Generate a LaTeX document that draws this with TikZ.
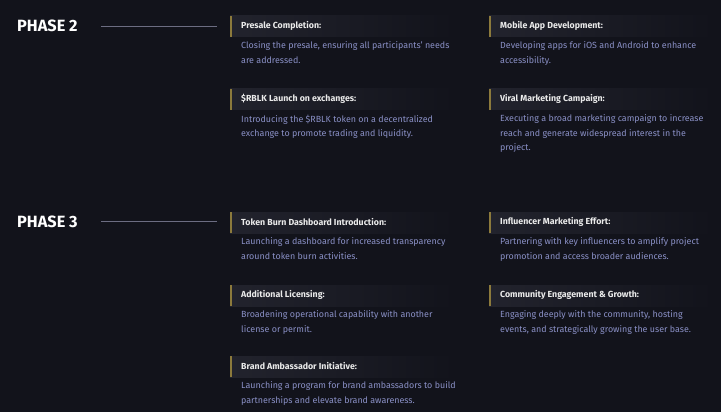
\documentclass[tikz,border=0pt]{standalone}
\usepackage{fontspec}
\setmainfont{Fira Sans}
\usetikzlibrary{positioning}
\definecolor{bgnavy}{HTML}{12131B}
\definecolor{barfill}{HTML}{22232D}
\definecolor{accent}{HTML}{8C7A3C}
\definecolor{desctext}{HTML}{8A90C6}
\definecolor{phaseline}{HTML}{6C6D82}
\tikzset{
	phase/.style={anchor=west, inner sep=0pt, text=white, font=\fontsize{16.3}{18}\selectfont\bfseries},
	cardtitle/.style={anchor=west, inner sep=0pt, text=white!92!black, font=\fontsize{8.8}{10}\selectfont\bfseries},
	carddesc/.style={anchor=north west, inner sep=0pt, align=left, text=desctext, font=\fontsize{8.9}{14.6}\selectfont},
	phaserule/.style={draw=phaseline, line width=0.8pt}
}
\def\roadcard(#1,#2)[#3]#4#5{
	\shade[left color=barfill, right color=bgnavy] (#1,#2-10) rectangle (#1+225,#2+11);
	\fill[accent] (#1,#2-10) rectangle (#1+2,#2+11);
	\node[cardtitle] (#3) at (#1+11,#2) {#4};
	\node[carddesc] (#3d) at (#1+11,#2+15.5) {#5};
}

\begin{document}
\begin{tikzpicture}[x=1pt, y=-1pt]
			%%%%% START %%%%%
			
			\fill[bgnavy] (0,0) rectangle (721,412);
			\useasboundingbox (0,0) rectangle (721,412);
			
			% phase 2
			\node[phase] (p2) at (17,26) {PHASE 2};
			\coordinate (p2a) at (101,26);
			\coordinate (p2b) at (217,26);
			\draw[phaserule] (p2a) -- (p2b);
			
			\roadcard(230,26)[presale]{Presale Completion:}{Closing the presale, ensuring all participants' needs\\are addressed.}
			\roadcard(489,26)[mobile]{Mobile App Development:}{Developing apps for iOS and Android to enhance\\accessibility.}
			\roadcard(230,99)[launch]{\$RBLK Launch on exchanges:}{Introducing the \$RBLK token on a decentralized\\exchange to promote trading and liquidity.}
			\roadcard(489,99)[viral]{Viral Marketing Campaign:}{Executing a broad marketing campaign to increase\\reach and generate widespread interest in the\\project.}
			
			% phase 3
			\node[phase] (p3) at (17,222) {PHASE 3};
			\coordinate (p3a) at (101,221);
			\coordinate (p3b) at (217,221);
			\draw[phaserule] (p3a) -- (p3b);
			
			\roadcard(230,222)[burn]{Token Burn Dashboard Introduction:}{Launching a dashboard for increased transparency\\around token burn activities.}
			\roadcard(489,222)[influencer]{Influencer Marketing Effort:}{Partnering with key influencers to amplify project\\promotion and access broader audiences.}
			\roadcard(230,295)[licensing]{Additional Licensing:}{Broadening operational capability with another\\license or permit.}
			\roadcard(489,295)[community]{Community Engagement \& Growth:}{Engaging deeply with the community, hosting\\events, and strategically growing the user base.}
			\roadcard(230,366)[ambassador]{Brand Ambassador Initiative:}{Launching a program for brand ambassadors to build\\partnerships and elevate brand awareness.}
			
			%%%%% END %%%%%
\end{tikzpicture}
\end{document}
